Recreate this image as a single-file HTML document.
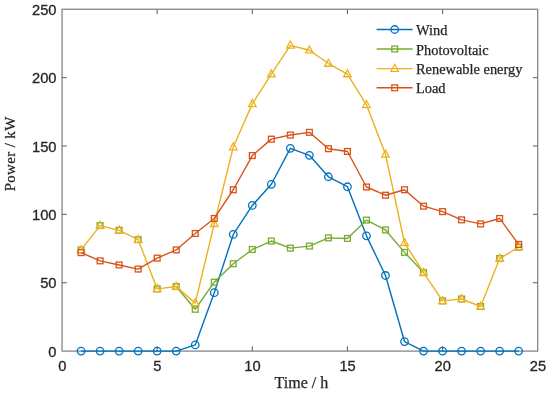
<!DOCTYPE html>
<html lang="en"><head><meta charset="utf-8"><title>Power chart</title>
<style>html,body{margin:0;padding:0;background:#fff;}body{width:550px;height:394px;overflow:hidden;}svg{display:block;}</style>
</head><body>
<svg width="550" height="394" viewBox="0 0 550 394">
<rect x="0" y="0" width="550" height="394" fill="#ffffff"/>
<g stroke="#868686" stroke-width="1.3" fill="none">
<rect x="62.05" y="9.25" width="475.65" height="341.85"/>
<line x1="157.18" y1="351.1" x2="157.18" y2="346.3" stroke="#6a6a6a" stroke-width="1.1"/>
<line x1="157.18" y1="9.25" x2="157.18" y2="14.05" stroke="#6a6a6a" stroke-width="1.1"/>
<line x1="252.31" y1="351.1" x2="252.31" y2="346.3" stroke="#6a6a6a" stroke-width="1.1"/>
<line x1="252.31" y1="9.25" x2="252.31" y2="14.05" stroke="#6a6a6a" stroke-width="1.1"/>
<line x1="347.44" y1="351.1" x2="347.44" y2="346.3" stroke="#6a6a6a" stroke-width="1.1"/>
<line x1="347.44" y1="9.25" x2="347.44" y2="14.05" stroke="#6a6a6a" stroke-width="1.1"/>
<line x1="442.57" y1="351.1" x2="442.57" y2="346.3" stroke="#6a6a6a" stroke-width="1.1"/>
<line x1="442.57" y1="9.25" x2="442.57" y2="14.05" stroke="#6a6a6a" stroke-width="1.1"/>
<line x1="62.05" y1="282.73" x2="66.85" y2="282.73" stroke="#6a6a6a" stroke-width="1.1"/>
<line x1="537.7" y1="282.73" x2="532.9000000000001" y2="282.73" stroke="#6a6a6a" stroke-width="1.1"/>
<line x1="62.05" y1="214.36" x2="66.85" y2="214.36" stroke="#6a6a6a" stroke-width="1.1"/>
<line x1="537.7" y1="214.36" x2="532.9000000000001" y2="214.36" stroke="#6a6a6a" stroke-width="1.1"/>
<line x1="62.05" y1="145.99" x2="66.85" y2="145.99" stroke="#6a6a6a" stroke-width="1.1"/>
<line x1="537.7" y1="145.99" x2="532.9000000000001" y2="145.99" stroke="#6a6a6a" stroke-width="1.1"/>
<line x1="62.05" y1="77.62" x2="66.85" y2="77.62" stroke="#6a6a6a" stroke-width="1.1"/>
<line x1="537.7" y1="77.62" x2="532.9000000000001" y2="77.62" stroke="#6a6a6a" stroke-width="1.1"/>
</g>
<g font-family="'Liberation Sans', Arial, sans-serif" font-size="14.7" fill="#262626" stroke="#262626" stroke-width="0.3">
<text x="62.25" y="371.0" text-anchor="middle">0</text>
<text x="157.38" y="371.0" text-anchor="middle">5</text>
<text x="252.51" y="371.0" text-anchor="middle">10</text>
<text x="347.64" y="371.0" text-anchor="middle">15</text>
<text x="442.77" y="371.0" text-anchor="middle">20</text>
<text x="537.90" y="371.0" text-anchor="middle">25</text>
<text x="56.5" y="356.70" text-anchor="end">0</text>
<text x="56.5" y="288.33" text-anchor="end">50</text>
<text x="56.5" y="219.96" text-anchor="end">100</text>
<text x="56.5" y="151.59" text-anchor="end">150</text>
<text x="56.5" y="83.22" text-anchor="end">200</text>
<text x="56.5" y="14.85" text-anchor="end">250</text>
</g>
<g font-family="'Liberation Serif', 'Times New Roman', serif" fill="#262626" stroke="#262626" stroke-width="0.25">
<text x="301.4" y="388.4" font-size="16" text-anchor="middle">Time / h</text>
<text transform="translate(15.3 153.9) rotate(-90)" font-size="14.9" letter-spacing="0.38" text-anchor="middle">Power / kW</text>
<text x="416" y="35.10" font-size="14.4">Wind</text>
<text x="416" y="54.60" font-size="14.4">Photovoltaic</text>
<text x="416" y="74.20" font-size="14.4">Renewable energy</text>
<text x="416" y="93.40" font-size="14.4">Load</text>
</g>
<line x1="376.6" y1="29.5" x2="412.6" y2="29.5" stroke="#0072BD" stroke-width="1.4"/>
<circle cx="394.70" cy="29.50" r="3.75" fill="none" stroke="#0072BD" stroke-width="1.3"/>
<line x1="376.6" y1="49.0" x2="412.6" y2="49.0" stroke="#77AC30" stroke-width="1.4"/>
<rect x="391.80" y="46.10" width="5.8" height="5.8" fill="none" stroke="#77AC30" stroke-width="1.3"/>
<line x1="376.6" y1="68.6" x2="412.6" y2="68.6" stroke="#EDB120" stroke-width="1.4"/>
<path d="M394.70 64.30 L398.50 71.30 L390.90 71.30 Z" fill="none" stroke="#EDB120" stroke-width="1.3" stroke-linejoin="miter"/>
<line x1="376.6" y1="87.8" x2="412.6" y2="87.8" stroke="#D95319" stroke-width="1.4"/>
<rect x="391.80" y="84.90" width="5.8" height="5.8" fill="none" stroke="#D95319" stroke-width="1.3"/>
<polyline points="81.08,351.10 100.10,351.10 119.13,351.10 138.15,351.10 157.18,351.10 176.21,351.10 195.23,344.95 214.26,292.71 233.28,234.46 252.31,205.47 271.34,184.28 290.36,148.31 309.39,155.29 328.41,176.76 347.44,186.74 366.47,235.83 385.49,275.48 404.52,341.53 423.54,351.10 442.57,351.10 461.60,351.10 480.62,351.10 499.65,351.10 518.67,351.10" fill="none" stroke="#0072BD" stroke-width="1.4" stroke-linejoin="round"/>
<circle cx="81.08" cy="351.10" r="3.75" fill="none" stroke="#0072BD" stroke-width="1.3"/>
<circle cx="100.10" cy="351.10" r="3.75" fill="none" stroke="#0072BD" stroke-width="1.3"/>
<circle cx="119.13" cy="351.10" r="3.75" fill="none" stroke="#0072BD" stroke-width="1.3"/>
<circle cx="138.15" cy="351.10" r="3.75" fill="none" stroke="#0072BD" stroke-width="1.3"/>
<circle cx="157.18" cy="351.10" r="3.75" fill="none" stroke="#0072BD" stroke-width="1.3"/>
<circle cx="176.21" cy="351.10" r="3.75" fill="none" stroke="#0072BD" stroke-width="1.3"/>
<circle cx="195.23" cy="344.95" r="3.75" fill="none" stroke="#0072BD" stroke-width="1.3"/>
<circle cx="214.26" cy="292.71" r="3.75" fill="none" stroke="#0072BD" stroke-width="1.3"/>
<circle cx="233.28" cy="234.46" r="3.75" fill="none" stroke="#0072BD" stroke-width="1.3"/>
<circle cx="252.31" cy="205.47" r="3.75" fill="none" stroke="#0072BD" stroke-width="1.3"/>
<circle cx="271.34" cy="184.28" r="3.75" fill="none" stroke="#0072BD" stroke-width="1.3"/>
<circle cx="290.36" cy="148.31" r="3.75" fill="none" stroke="#0072BD" stroke-width="1.3"/>
<circle cx="309.39" cy="155.29" r="3.75" fill="none" stroke="#0072BD" stroke-width="1.3"/>
<circle cx="328.41" cy="176.76" r="3.75" fill="none" stroke="#0072BD" stroke-width="1.3"/>
<circle cx="347.44" cy="186.74" r="3.75" fill="none" stroke="#0072BD" stroke-width="1.3"/>
<circle cx="366.47" cy="235.83" r="3.75" fill="none" stroke="#0072BD" stroke-width="1.3"/>
<circle cx="385.49" cy="275.48" r="3.75" fill="none" stroke="#0072BD" stroke-width="1.3"/>
<circle cx="404.52" cy="341.53" r="3.75" fill="none" stroke="#0072BD" stroke-width="1.3"/>
<circle cx="423.54" cy="351.10" r="3.75" fill="none" stroke="#0072BD" stroke-width="1.3"/>
<circle cx="442.57" cy="351.10" r="3.75" fill="none" stroke="#0072BD" stroke-width="1.3"/>
<circle cx="461.60" cy="351.10" r="3.75" fill="none" stroke="#0072BD" stroke-width="1.3"/>
<circle cx="480.62" cy="351.10" r="3.75" fill="none" stroke="#0072BD" stroke-width="1.3"/>
<circle cx="499.65" cy="351.10" r="3.75" fill="none" stroke="#0072BD" stroke-width="1.3"/>
<circle cx="518.67" cy="351.10" r="3.75" fill="none" stroke="#0072BD" stroke-width="1.3"/>
<polyline points="176.21,286.56 195.23,309.26 214.26,282.18 233.28,263.72 252.31,249.50 271.34,241.02 290.36,248.13 309.39,246.08 328.41,237.88 347.44,238.43 366.47,220.10 385.49,229.95 404.52,252.37 423.54,272.61" fill="none" stroke="#77AC30" stroke-width="1.4" stroke-linejoin="round"/>
<rect x="78.18" y="247.01" width="5.8" height="5.8" fill="none" stroke="#77AC30" stroke-width="1.3"/>
<rect x="97.20" y="222.67" width="5.8" height="5.8" fill="none" stroke="#77AC30" stroke-width="1.3"/>
<rect x="116.23" y="227.46" width="5.8" height="5.8" fill="none" stroke="#77AC30" stroke-width="1.3"/>
<rect x="135.25" y="236.76" width="5.8" height="5.8" fill="none" stroke="#77AC30" stroke-width="1.3"/>
<rect x="154.28" y="285.98" width="5.8" height="5.8" fill="none" stroke="#77AC30" stroke-width="1.3"/>
<rect x="173.31" y="283.66" width="5.8" height="5.8" fill="none" stroke="#77AC30" stroke-width="1.3"/>
<rect x="192.33" y="306.36" width="5.8" height="5.8" fill="none" stroke="#77AC30" stroke-width="1.3"/>
<rect x="211.36" y="279.28" width="5.8" height="5.8" fill="none" stroke="#77AC30" stroke-width="1.3"/>
<rect x="230.38" y="260.82" width="5.8" height="5.8" fill="none" stroke="#77AC30" stroke-width="1.3"/>
<rect x="249.41" y="246.60" width="5.8" height="5.8" fill="none" stroke="#77AC30" stroke-width="1.3"/>
<rect x="268.44" y="238.12" width="5.8" height="5.8" fill="none" stroke="#77AC30" stroke-width="1.3"/>
<rect x="287.46" y="245.23" width="5.8" height="5.8" fill="none" stroke="#77AC30" stroke-width="1.3"/>
<rect x="306.49" y="243.18" width="5.8" height="5.8" fill="none" stroke="#77AC30" stroke-width="1.3"/>
<rect x="325.51" y="234.98" width="5.8" height="5.8" fill="none" stroke="#77AC30" stroke-width="1.3"/>
<rect x="344.54" y="235.53" width="5.8" height="5.8" fill="none" stroke="#77AC30" stroke-width="1.3"/>
<rect x="363.57" y="217.20" width="5.8" height="5.8" fill="none" stroke="#77AC30" stroke-width="1.3"/>
<rect x="382.59" y="227.05" width="5.8" height="5.8" fill="none" stroke="#77AC30" stroke-width="1.3"/>
<rect x="401.62" y="249.47" width="5.8" height="5.8" fill="none" stroke="#77AC30" stroke-width="1.3"/>
<rect x="420.64" y="269.71" width="5.8" height="5.8" fill="none" stroke="#77AC30" stroke-width="1.3"/>
<rect x="439.67" y="298.02" width="5.8" height="5.8" fill="none" stroke="#77AC30" stroke-width="1.3"/>
<rect x="458.70" y="296.10" width="5.8" height="5.8" fill="none" stroke="#77AC30" stroke-width="1.3"/>
<rect x="477.72" y="303.62" width="5.8" height="5.8" fill="none" stroke="#77AC30" stroke-width="1.3"/>
<rect x="496.75" y="255.63" width="5.8" height="5.8" fill="none" stroke="#77AC30" stroke-width="1.3"/>
<rect x="515.77" y="244.28" width="5.8" height="5.8" fill="none" stroke="#77AC30" stroke-width="1.3"/>
<polyline points="81.08,249.91 100.10,225.57 119.13,230.36 138.15,239.66 157.18,288.88 176.21,286.56 195.23,303.10 214.26,223.80 233.28,147.08 252.31,103.87 271.34,74.20 290.36,45.35 309.39,50.27 328.41,63.54 347.44,74.06 366.47,104.83 385.49,154.33 404.52,242.80 423.54,272.61 442.57,300.92 461.60,299.00 480.62,306.52 499.65,258.53 518.67,247.18" fill="none" stroke="#EDB120" stroke-width="1.4" stroke-linejoin="round"/>
<path d="M81.08 245.61 L84.88 252.61 L77.28 252.61 Z" fill="none" stroke="#EDB120" stroke-width="1.3" stroke-linejoin="miter"/>
<path d="M100.10 221.27 L103.90 228.27 L96.30 228.27 Z" fill="none" stroke="#EDB120" stroke-width="1.3" stroke-linejoin="miter"/>
<path d="M119.13 226.06 L122.93 233.06 L115.33 233.06 Z" fill="none" stroke="#EDB120" stroke-width="1.3" stroke-linejoin="miter"/>
<path d="M138.15 235.36 L141.95 242.36 L134.35 242.36 Z" fill="none" stroke="#EDB120" stroke-width="1.3" stroke-linejoin="miter"/>
<path d="M157.18 284.58 L160.98 291.58 L153.38 291.58 Z" fill="none" stroke="#EDB120" stroke-width="1.3" stroke-linejoin="miter"/>
<path d="M176.21 282.26 L180.01 289.26 L172.41 289.26 Z" fill="none" stroke="#EDB120" stroke-width="1.3" stroke-linejoin="miter"/>
<path d="M195.23 298.80 L199.03 305.80 L191.43 305.80 Z" fill="none" stroke="#EDB120" stroke-width="1.3" stroke-linejoin="miter"/>
<path d="M214.26 219.50 L218.06 226.50 L210.46 226.50 Z" fill="none" stroke="#EDB120" stroke-width="1.3" stroke-linejoin="miter"/>
<path d="M233.28 142.78 L237.08 149.78 L229.48 149.78 Z" fill="none" stroke="#EDB120" stroke-width="1.3" stroke-linejoin="miter"/>
<path d="M252.31 99.57 L256.11 106.57 L248.51 106.57 Z" fill="none" stroke="#EDB120" stroke-width="1.3" stroke-linejoin="miter"/>
<path d="M271.34 69.90 L275.14 76.90 L267.54 76.90 Z" fill="none" stroke="#EDB120" stroke-width="1.3" stroke-linejoin="miter"/>
<path d="M290.36 41.05 L294.16 48.05 L286.56 48.05 Z" fill="none" stroke="#EDB120" stroke-width="1.3" stroke-linejoin="miter"/>
<path d="M309.39 45.97 L313.19 52.97 L305.59 52.97 Z" fill="none" stroke="#EDB120" stroke-width="1.3" stroke-linejoin="miter"/>
<path d="M328.41 59.24 L332.21 66.24 L324.61 66.24 Z" fill="none" stroke="#EDB120" stroke-width="1.3" stroke-linejoin="miter"/>
<path d="M347.44 69.76 L351.24 76.76 L343.64 76.76 Z" fill="none" stroke="#EDB120" stroke-width="1.3" stroke-linejoin="miter"/>
<path d="M366.47 100.53 L370.27 107.53 L362.67 107.53 Z" fill="none" stroke="#EDB120" stroke-width="1.3" stroke-linejoin="miter"/>
<path d="M385.49 150.03 L389.29 157.03 L381.69 157.03 Z" fill="none" stroke="#EDB120" stroke-width="1.3" stroke-linejoin="miter"/>
<path d="M404.52 238.50 L408.32 245.50 L400.72 245.50 Z" fill="none" stroke="#EDB120" stroke-width="1.3" stroke-linejoin="miter"/>
<path d="M423.54 268.31 L427.34 275.31 L419.74 275.31 Z" fill="none" stroke="#EDB120" stroke-width="1.3" stroke-linejoin="miter"/>
<path d="M442.57 296.62 L446.37 303.62 L438.77 303.62 Z" fill="none" stroke="#EDB120" stroke-width="1.3" stroke-linejoin="miter"/>
<path d="M461.60 294.70 L465.40 301.70 L457.80 301.70 Z" fill="none" stroke="#EDB120" stroke-width="1.3" stroke-linejoin="miter"/>
<path d="M480.62 302.22 L484.42 309.22 L476.82 309.22 Z" fill="none" stroke="#EDB120" stroke-width="1.3" stroke-linejoin="miter"/>
<path d="M499.65 254.23 L503.45 261.23 L495.85 261.23 Z" fill="none" stroke="#EDB120" stroke-width="1.3" stroke-linejoin="miter"/>
<path d="M518.67 242.88 L522.47 249.88 L514.87 249.88 Z" fill="none" stroke="#EDB120" stroke-width="1.3" stroke-linejoin="miter"/>
<polyline points="81.08,252.65 100.10,260.85 119.13,264.95 138.15,269.06 157.18,258.12 176.21,249.91 195.23,233.50 214.26,218.46 233.28,189.75 252.31,155.56 271.34,139.15 290.36,135.05 309.39,132.32 328.41,148.72 347.44,151.46 366.47,187.01 385.49,195.22 404.52,189.75 423.54,206.16 442.57,211.63 461.60,219.83 480.62,223.93 499.65,218.46 518.67,244.44" fill="none" stroke="#D95319" stroke-width="1.4" stroke-linejoin="round"/>
<rect x="78.18" y="249.75" width="5.8" height="5.8" fill="none" stroke="#D95319" stroke-width="1.3"/>
<rect x="97.20" y="257.95" width="5.8" height="5.8" fill="none" stroke="#D95319" stroke-width="1.3"/>
<rect x="116.23" y="262.05" width="5.8" height="5.8" fill="none" stroke="#D95319" stroke-width="1.3"/>
<rect x="135.25" y="266.16" width="5.8" height="5.8" fill="none" stroke="#D95319" stroke-width="1.3"/>
<rect x="154.28" y="255.22" width="5.8" height="5.8" fill="none" stroke="#D95319" stroke-width="1.3"/>
<rect x="173.31" y="247.01" width="5.8" height="5.8" fill="none" stroke="#D95319" stroke-width="1.3"/>
<rect x="192.33" y="230.60" width="5.8" height="5.8" fill="none" stroke="#D95319" stroke-width="1.3"/>
<rect x="211.36" y="215.56" width="5.8" height="5.8" fill="none" stroke="#D95319" stroke-width="1.3"/>
<rect x="230.38" y="186.85" width="5.8" height="5.8" fill="none" stroke="#D95319" stroke-width="1.3"/>
<rect x="249.41" y="152.66" width="5.8" height="5.8" fill="none" stroke="#D95319" stroke-width="1.3"/>
<rect x="268.44" y="136.25" width="5.8" height="5.8" fill="none" stroke="#D95319" stroke-width="1.3"/>
<rect x="287.46" y="132.15" width="5.8" height="5.8" fill="none" stroke="#D95319" stroke-width="1.3"/>
<rect x="306.49" y="129.42" width="5.8" height="5.8" fill="none" stroke="#D95319" stroke-width="1.3"/>
<rect x="325.51" y="145.82" width="5.8" height="5.8" fill="none" stroke="#D95319" stroke-width="1.3"/>
<rect x="344.54" y="148.56" width="5.8" height="5.8" fill="none" stroke="#D95319" stroke-width="1.3"/>
<rect x="363.57" y="184.11" width="5.8" height="5.8" fill="none" stroke="#D95319" stroke-width="1.3"/>
<rect x="382.59" y="192.32" width="5.8" height="5.8" fill="none" stroke="#D95319" stroke-width="1.3"/>
<rect x="401.62" y="186.85" width="5.8" height="5.8" fill="none" stroke="#D95319" stroke-width="1.3"/>
<rect x="420.64" y="203.26" width="5.8" height="5.8" fill="none" stroke="#D95319" stroke-width="1.3"/>
<rect x="439.67" y="208.73" width="5.8" height="5.8" fill="none" stroke="#D95319" stroke-width="1.3"/>
<rect x="458.70" y="216.93" width="5.8" height="5.8" fill="none" stroke="#D95319" stroke-width="1.3"/>
<rect x="477.72" y="221.03" width="5.8" height="5.8" fill="none" stroke="#D95319" stroke-width="1.3"/>
<rect x="496.75" y="215.56" width="5.8" height="5.8" fill="none" stroke="#D95319" stroke-width="1.3"/>
<rect x="515.77" y="241.54" width="5.8" height="5.8" fill="none" stroke="#D95319" stroke-width="1.3"/>
</svg>
</body></html>
